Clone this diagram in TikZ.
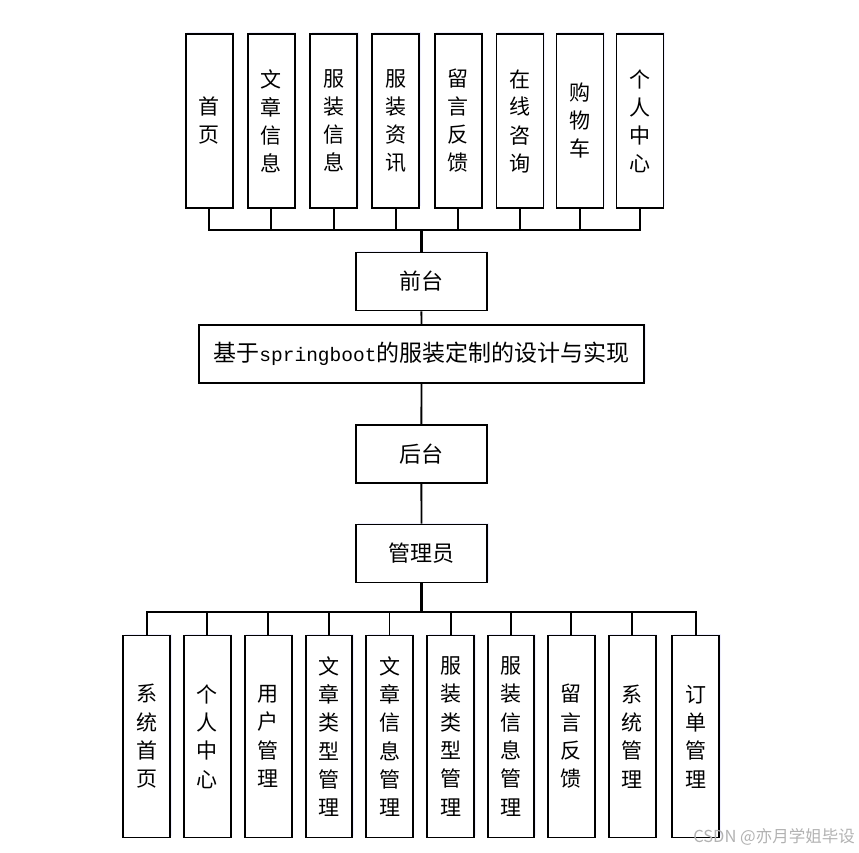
\documentclass[tikz,border=0pt]{standalone}
\usepackage{fontspec}
\setmainfont{Noto Sans CJK SC}
\newfontfamily\latinmono{Liberation Mono}
\usetikzlibrary{shadows}
\tikzset{
  box/.style={draw=black, line width=1.9pt, fill=white, inner sep=0pt,
    drop shadow={shadow xshift=1.5pt, shadow yshift=1.5pt, fill=blue!25, opacity=0.25}},
  topbox/.style={box, minimum width=47pt, minimum height=174pt, align=center,
    font=\fontsize{21}{28}\selectfont},
  botbox/.style={box, minimum width=46.7pt, minimum height=202pt, align=center,
    font=\fontsize{21}{28.3}\selectfont},
  midbox/.style={box, minimum width=131pt, minimum height=58pt,
    font=\fontsize{22}{26}\selectfont},
  conn/.style={line width=1.8pt},
  trunk/.style={line width=3pt}
}
\begin{document}
\begin{tikzpicture}[x=1pt,y=-1pt]
\useasboundingbox (0,0) rectangle (859,853);
% top boxes
\node[topbox] (t1) at (209.2,121) {首\\页};
\node[topbox] (t2) at (271.3,121) {文\\章\\信\\息};
\node[topbox] (t3) at (333.7,121) {服\\装\\信\\息};
\node[topbox] (t4) at (395.8,121) {服\\装\\资\\讯};
\node[topbox] (t5) at (458.3,121) {留\\言\\反\\馈};
\node[topbox] (t6) at (520,121) {在\\线\\咨\\询};
\node[topbox] (t7) at (580,121) {购\\物\\车};
\node[topbox] (t8) at (640,121) {个\\人\\中\\心};
% middle
\node[midbox] (qt) at (421.3,281.5) {前台};
\node[box, minimum width=445pt, minimum height=58pt, font=\fontsize{23}{26}\selectfont] (title) at (421.5,354)
  {基于{\latinmono\fontsize{19.5}{26}\selectfont springboot}的服装定制的设计与实现};
\node[midbox] (ht) at (421.3,454) {后台};
\node[midbox] (gly) at (421.5,553.5) {管理员};
% bottom boxes
\node[botbox] (b1) at (146.7,736.5) {系\\统\\首\\页};
\node[botbox] (b2) at (207.3,736.5) {个\\人\\中\\心};
\node[botbox] (b3) at (268.3,736.5) {用\\户\\管\\理};
\node[botbox] (b4) at (329,736.5) {文\\章\\类\\型\\管\\理};
\node[botbox] (b5) at (389.5,736.5) {文\\章\\信\\息\\管\\理};
\node[botbox] (b6) at (450.7,736.5) {服\\装\\类\\型\\管\\理};
\node[botbox] (b7) at (511,736.5) {服\\装\\信\\息\\管\\理};
\node[botbox] (b8) at (571.3,736.5) {留\\言\\反\\馈};
\node[botbox] (b9) at (632.3,736.5) {系\\统\\管\\理};
\node[botbox] (b10) at (695.7,736.5) {订\\单\\管\\理};
% top connectors
\coordinate (busT) at (421.7,230);
\foreach \i in {1,...,8} {
  \draw[conn] (t\i.south) -- (t\i.south |- busT);
}
\draw[conn, line cap=rect] (t1.south |- busT) -- (t8.south |- busT);
\draw[trunk] (busT) -- (busT |- qt.north);
\draw[conn] (qt) -- (title);
\draw[conn] (title) -- (ht);
\draw[conn] (ht) -- (gly);
% bottom connectors
\coordinate (busB) at (421.7,612.3);
\draw[trunk] (gly.south -| busB) -- (busB);
\draw[conn, line cap=rect] (b1.north |- busB) -- (b10.north |- busB);
\foreach \i in {1,...,10} {
  \draw[conn] (b\i.north |- busB) -- (b\i.north);
}
% watermark
\node[text=black!30, font=\fontsize{16.5}{19}\selectfont, anchor=east, inner sep=0pt] (wm) at (855,836.7) {CSDN @亦月学姐毕设};
\end{tikzpicture}
\end{document}
